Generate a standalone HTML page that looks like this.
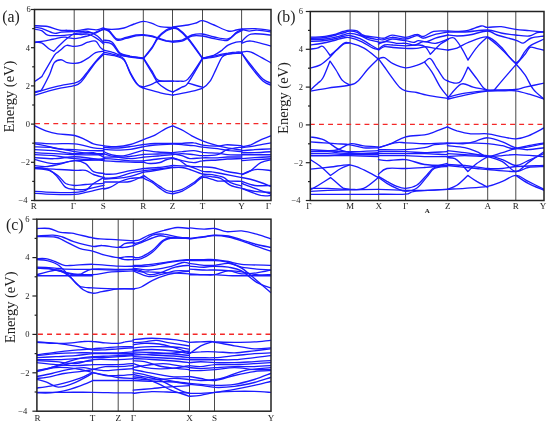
<!DOCTYPE html><html><head><meta charset="utf-8"><style>html,body{margin:0;padding:0;background:#fff;width:550px;height:424px;overflow:hidden}svg{display:block}text{font-family:"Liberation Serif",serif;fill:#222}</style></head><body>
<svg width="550" height="424" viewBox="0 0 550 424">
<clipPath id="ca"><rect x="34.5" y="9.5" width="236.5" height="191.0"/></clipPath>
<line x1="74.2" y1="9.5" x2="74.2" y2="200.5" stroke="#4a4a4a" stroke-width="1"/>
<line x1="103.6" y1="9.5" x2="103.6" y2="200.5" stroke="#4a4a4a" stroke-width="1"/>
<line x1="143.3" y1="9.5" x2="143.3" y2="200.5" stroke="#4a4a4a" stroke-width="1"/>
<line x1="172.5" y1="9.5" x2="172.5" y2="200.5" stroke="#4a4a4a" stroke-width="1"/>
<line x1="202.5" y1="9.5" x2="202.5" y2="200.5" stroke="#4a4a4a" stroke-width="1"/>
<line x1="241.6" y1="9.5" x2="241.6" y2="200.5" stroke="#4a4a4a" stroke-width="1"/>
<g clip-path="url(#ca)" fill="none" stroke="#1a1aff" stroke-width="1.35" stroke-linejoin="round" stroke-linecap="round">
<path d="M34.8,25.7 C36.9,25.8 44.2,25.9 47.7,26.5 C51.2,27.1 53.7,28.4 56.0,29.1 C58.3,29.8 59.8,30.3 61.7,30.5 C63.6,30.7 65.2,30.2 67.3,30.3 C69.4,30.4 72.0,30.8 74.2,30.8 C76.5,30.8 78.5,30.4 80.8,30.1 C83.1,29.8 85.4,29.0 88.0,29.0 C90.6,29.0 93.9,30.1 96.5,29.9 C99.1,29.7 102.6,28.0 103.8,27.6"/>
<path d="M34.8,27.2 C35.9,27.4 38.4,27.4 41.6,28.4 C44.8,29.4 50.5,32.6 53.8,33.2 C57.1,33.8 58.1,32.5 61.5,32.2 C64.9,31.9 71.0,31.6 74.2,31.5 C77.4,31.4 78.5,31.5 80.8,31.5 C83.1,31.5 85.2,30.6 88.0,31.3 C90.8,32.0 94.8,34.1 97.4,36.0 C100.0,37.9 102.7,41.6 103.8,42.7"/>
<path d="M34.8,29.2 C35.9,29.4 39.5,29.7 41.6,30.7 C43.8,31.7 45.2,34.3 47.7,35.1 C50.2,35.9 54.1,35.6 56.9,35.6 C59.7,35.6 61.6,35.5 64.5,35.3 C67.4,35.1 71.5,34.5 74.2,34.4 C76.9,34.3 78.5,34.5 80.8,34.5 C83.1,34.5 85.2,33.5 88.0,34.2 C90.8,34.9 94.8,37.2 97.4,38.9 C100.0,40.5 102.7,43.2 103.8,44.1"/>
<path d="M34.8,42.1 C35.9,42.0 39.1,41.8 41.6,41.4 C44.1,41.0 47.6,40.3 50.0,39.8 C52.4,39.3 54.3,39.0 56.0,38.6 C57.7,38.2 58.7,37.8 60.2,37.6 C61.7,37.4 62.9,37.0 65.2,37.2 C67.5,37.4 71.6,38.5 74.2,38.6 C76.8,38.7 78.5,38.1 80.8,37.6 C83.1,37.1 85.9,36.3 87.8,35.8 C89.7,35.3 90.5,35.2 92.0,34.5 C93.5,33.8 95.0,32.4 97.0,31.5 C99.0,30.6 102.7,29.8 103.8,29.4"/>
<path d="M34.8,42.5 C35.9,42.6 39.2,41.8 41.6,42.9 C44.0,44.0 47.3,47.6 49.3,49.0 C51.3,50.4 53.0,50.9 53.8,51.3 C54.2,50.9 54.7,50.2 56.0,48.9 C57.3,47.5 59.8,45.0 61.7,43.2 C63.6,41.4 65.2,39.9 67.3,38.3 C69.4,36.7 72.0,34.6 74.2,33.7 C76.5,32.8 78.5,33.2 80.8,33.0 C83.1,32.8 85.6,32.5 88.0,32.5 C90.4,32.5 92.4,33.6 95.0,33.0 C97.6,32.4 102.3,29.5 103.8,28.8"/>
<path d="M34.8,81.4 C35.9,80.7 39.8,78.3 41.2,77.1 C42.6,75.9 41.1,77.6 43.3,74.0 C45.5,70.4 51.8,59.1 54.3,55.4 C56.8,51.7 56.8,53.1 58.1,52.0 C59.4,50.9 60.9,49.6 62.3,48.5 C63.7,47.4 64.6,45.6 66.6,45.3 C68.6,44.9 71.8,46.4 74.2,46.4 C76.6,46.4 78.5,46.0 80.8,45.3 C83.1,44.6 85.5,42.9 88.0,42.2 C90.5,41.5 93.5,40.3 95.6,41.2 C97.6,42.1 98.9,45.9 100.3,47.4 C101.7,48.9 103.2,49.7 103.8,50.2"/>
<path d="M34.8,91.8 C35.3,91.7 36.9,91.5 38.0,91.2 C39.1,91.0 40.2,91.3 41.2,90.3 C42.2,89.3 42.9,87.7 44.3,85.0 C45.7,82.3 48.1,77.7 49.8,74.0 C51.5,70.3 52.4,65.1 54.3,62.7 C56.2,60.3 58.9,59.7 61.0,59.7 C63.1,59.7 65.0,62.1 67.2,62.7 C69.4,63.3 72.0,63.5 74.2,63.4 C76.4,63.3 78.2,63.3 80.5,62.4 C82.8,61.5 85.6,59.7 88.1,58.1 C90.6,56.5 93.0,53.8 95.6,52.6 C98.2,51.5 102.4,51.4 103.8,51.2"/>
<path d="M34.8,92.6 C38.3,91.6 49.4,88.2 56.0,86.6 C62.6,85.0 70.1,84.1 74.2,83.1 C78.3,82.0 78.2,82.3 80.5,80.3 C82.8,78.3 85.6,74.2 88.1,71.1 C90.6,67.9 93.1,64.5 95.7,61.4 C98.3,58.3 102.5,54.1 103.8,52.6"/>
<path d="M34.8,95.2 C38.3,94.2 49.4,90.8 56.0,89.2 C62.6,87.6 70.1,86.8 74.2,85.7 C78.3,84.6 78.2,84.7 80.5,82.5 C82.8,80.3 85.6,76.0 88.1,72.7 C90.6,69.4 93.1,65.5 95.7,62.4 C98.3,59.3 102.5,55.4 103.8,54.0"/>
<path d="M103.6,28.6 C105.0,28.8 108.6,29.5 112.0,29.4 C115.4,29.3 120.4,28.9 124.0,28.0 C127.7,27.1 130.8,25.1 134.1,24.0 C137.3,22.9 140.5,21.5 143.5,21.4 C146.5,21.3 149.3,22.5 152.1,23.4 C154.9,24.3 156.6,26.0 160.1,26.6 C163.6,27.3 171.0,27.3 173.1,27.4"/>
<path d="M103.6,29.0 C104.5,29.3 106.8,29.0 109.0,30.6 C111.3,32.3 114.2,37.9 117.0,39.0 C119.9,40.2 122.9,38.1 126.1,37.4 C129.2,36.8 133.2,35.5 136.1,35.0 C139.0,34.6 140.8,34.5 143.5,34.6 C146.2,34.8 149.7,35.5 152.1,36.0 C154.5,36.6 155.8,37.3 158.1,38.0 C160.5,38.8 163.6,40.1 166.1,40.7 C168.6,41.2 172.0,41.3 173.1,41.5"/>
<path d="M103.6,29.4 C104.5,29.8 106.8,29.7 109.0,31.4 C111.3,33.2 114.2,38.9 117.0,40.1 C119.9,41.2 122.9,39.1 126.1,38.4 C129.2,37.7 133.2,36.3 136.1,35.8 C139.0,35.3 140.8,35.3 143.5,35.4 C146.2,35.6 149.7,36.1 152.1,36.6 C154.5,37.2 155.8,37.9 158.1,38.6 C160.5,39.4 163.6,40.5 166.1,41.1 C168.6,41.6 172.0,41.9 173.1,42.1"/>
<path d="M103.6,40.1 C105.0,40.4 109.3,39.9 112.0,42.1 C114.8,44.2 117.0,50.7 120.0,53.1 C123.0,55.4 126.2,55.2 130.1,56.1 C134.0,56.9 141.2,57.8 143.5,58.1"/>
<path d="M103.6,42.1 C105.0,42.4 109.3,42.1 112.0,44.1 C114.8,46.1 117.0,52.0 120.0,54.1 C123.0,56.2 126.2,56.0 130.1,56.7 C134.0,57.4 141.2,58.0 143.5,58.3"/>
<path d="M103.6,50.1 C105.0,50.4 109.3,51.2 112.0,52.1 C114.8,52.9 117.0,54.2 120.0,55.1 C123.0,55.9 126.2,56.5 130.1,57.1 C134.0,57.7 141.2,58.4 143.5,58.7"/>
<path d="M103.6,52.1 C105.7,52.6 112.6,53.9 116.0,55.1 C119.4,56.2 121.7,56.1 124.0,59.1 C126.4,62.1 127.9,68.9 130.1,73.1 C132.2,77.3 134.8,81.8 137.1,84.1 C139.3,86.5 142.4,86.6 143.5,87.1"/>
<path d="M103.6,54.1 C105.7,54.4 112.6,55.1 116.0,56.1 C119.4,57.1 121.5,57.1 124.0,60.1 C126.6,63.1 128.7,69.9 131.1,74.1 C133.4,78.3 136.0,82.8 138.1,85.1 C140.1,87.5 142.6,87.6 143.5,88.1"/>
<path d="M143.5,58.1 C144.9,56.2 149.7,50.6 152.1,47.1 C154.5,43.6 155.8,39.9 158.1,37.0 C160.5,34.2 163.6,31.6 166.1,30.0 C168.6,28.4 172.0,27.9 173.1,27.4"/>
<path d="M143.5,58.7 C144.9,56.9 149.7,51.5 152.1,48.1 C154.5,44.6 155.8,40.9 158.1,38.0 C160.5,35.2 163.6,32.7 166.1,31.0 C168.6,29.4 172.0,28.7 173.1,28.2"/>
<path d="M143.5,58.1 C144.9,60.3 149.7,67.4 152.1,71.1 C154.5,74.8 154.6,78.5 158.1,80.1 C161.6,81.8 170.6,81.0 173.1,81.1"/>
<path d="M143.5,58.7 C144.9,61.1 149.7,69.0 152.1,73.1 C154.5,77.2 155.8,80.5 158.1,83.1 C160.5,85.8 163.6,87.6 166.1,89.1 C168.6,90.7 172.0,91.7 173.1,92.2"/>
<path d="M143.5,87.1 C144.9,86.6 149.7,85.1 152.1,84.1 C154.5,83.2 154.6,82.0 158.1,81.5 C161.6,81.0 170.6,81.2 173.1,81.1"/>
<path d="M143.5,88.1 C145.9,88.8 154.3,91.2 158.1,92.2 C161.9,93.2 163.6,93.7 166.1,94.2 C168.6,94.7 172.0,95.0 173.1,95.2"/>
<path d="M172.6,27.0 C175.2,26.7 184.1,25.7 188.0,25.0 C191.9,24.4 193.6,23.8 196.1,23.0 C198.5,22.3 199.5,20.3 202.5,20.6 C205.5,20.9 209.8,23.3 214.1,25.0 C218.4,26.8 224.4,30.2 228.1,31.0 C231.8,31.9 233.8,30.4 236.1,30.0 C238.5,29.7 241.1,29.2 242.1,29.0"/>
<path d="M172.6,27.4 C173.5,27.6 175.4,26.9 178.0,28.6 C180.6,30.4 184.0,33.1 188.0,38.0 C192.1,43.0 200.1,54.7 202.5,58.1"/>
<path d="M172.6,28.2 C173.5,28.4 175.4,27.6 178.0,29.4 C180.6,31.2 184.0,34.2 188.0,39.0 C192.1,43.9 200.1,55.4 202.5,58.7"/>
<path d="M172.6,41.1 C174.2,40.9 178.8,41.1 182.0,40.1 C185.3,39.0 188.6,36.0 192.0,35.0 C195.5,34.0 198.8,33.7 202.5,34.0 C206.1,34.4 209.8,36.2 214.1,37.0 C218.4,37.9 224.4,39.8 228.1,39.0 C231.8,38.3 233.8,34.2 236.1,32.6 C238.5,31.0 241.1,30.0 242.1,29.4"/>
<path d="M172.6,42.1 C174.2,41.9 178.8,42.1 182.0,41.1 C185.3,40.1 188.6,36.9 192.0,36.0 C195.5,35.2 198.8,35.6 202.5,36.0 C206.1,36.5 210.8,38.0 214.1,38.6 C217.4,39.3 219.8,39.8 222.1,40.1 C224.4,40.3 225.8,41.2 228.1,40.1 C230.5,38.9 233.8,35.0 236.1,33.4 C238.5,31.9 241.1,31.1 242.1,30.6"/>
<path d="M202.5,58.1 C204.4,57.8 210.8,56.8 214.1,56.1 C217.4,55.4 219.8,54.6 222.1,54.1 C224.4,53.6 225.8,53.4 228.1,53.1 C230.5,52.7 233.8,52.2 236.1,52.1 C238.5,51.9 241.1,52.1 242.1,52.1"/>
<path d="M202.5,58.7 C204.4,58.4 210.8,57.7 214.1,57.1 C217.4,56.5 219.8,55.6 222.1,55.1 C224.4,54.6 225.8,54.4 228.1,54.1 C230.5,53.7 233.8,53.2 236.1,53.1 C238.5,52.9 241.1,53.1 242.1,53.1"/>
<path d="M202.5,58.1 C204.4,57.6 210.8,56.4 214.1,55.1 C217.4,53.7 219.8,51.7 222.1,50.1 C224.4,48.4 225.8,46.4 228.1,45.1 C230.5,43.7 233.8,42.7 236.1,42.1 C238.5,41.5 241.1,41.6 242.1,41.5"/>
<path d="M172.6,81.1 C173.8,81.1 177.4,81.5 180.0,81.1 C182.6,80.8 184.3,83.0 188.0,79.1 C191.8,75.3 200.1,61.6 202.5,58.1"/>
<path d="M172.6,92.2 C174.2,91.3 179.5,88.6 182.0,87.1 C184.6,85.6 184.6,87.9 188.0,83.1 C191.4,78.4 200.1,62.8 202.5,58.7"/>
<path d="M188.0,83.1 C189.4,83.5 193.6,84.9 196.1,85.5 C198.5,86.2 201.4,86.9 202.5,87.1"/>
<path d="M172.6,95.2 C175.2,94.7 183.1,93.3 188.0,92.2 C193.0,91.0 198.8,90.0 202.5,88.1 C206.1,86.3 207.8,84.3 210.1,81.1 C212.4,78.0 214.1,73.1 216.1,69.1 C218.1,65.1 220.1,59.6 222.1,57.1 C224.1,54.6 224.8,54.7 228.1,54.1 C231.5,53.4 239.8,53.2 242.1,53.1"/>
<path d="M241.7,29.1 C243.9,29.0 250.1,28.4 255.1,28.7 C260.1,28.9 268.8,30.3 271.6,30.7"/>
<path d="M241.7,29.5 C242.9,29.7 246.5,31.0 249.1,31.1 C251.7,31.2 253.4,29.9 257.1,30.1 C260.9,30.2 269.2,31.7 271.6,32.1"/>
<path d="M241.7,41.5 C243.2,40.3 246.1,35.1 251.1,34.1 C256.1,33.0 268.2,34.9 271.6,35.1"/>
<path d="M241.7,43.1 C243.2,42.8 246.1,40.6 251.1,41.1 C256.1,41.6 268.2,45.3 271.6,46.1"/>
<path d="M241.7,52.1 C243.2,52.1 246.1,50.3 251.1,52.1 C256.1,54.0 268.2,61.4 271.6,63.2"/>
<path d="M241.7,53.2 C243.2,55.2 247.5,60.9 251.1,65.2 C254.7,69.6 259.7,76.2 263.2,79.3 C266.6,82.3 270.2,82.6 271.6,83.3"/>
<path d="M241.7,53.2 C243.2,55.5 247.5,62.5 251.1,67.2 C254.7,71.9 259.7,78.3 263.2,81.3 C266.6,84.3 270.2,84.6 271.6,85.3"/>
<path d="M35.0,125.9 C36.8,126.8 42.1,129.6 45.9,130.9 C49.7,132.2 53.0,133.1 57.8,133.9 C62.6,134.6 70.0,134.5 74.7,135.5 C79.3,136.5 82.4,138.4 85.6,139.8 C88.7,141.2 90.4,142.8 93.5,143.8 C96.6,144.8 102.3,145.4 104.0,145.8"/>
<path d="M35.0,142.8 C38.1,143.0 47.2,143.6 53.8,143.8 C60.5,144.0 68.1,143.1 74.7,143.8 C81.3,144.5 88.6,146.9 93.5,147.8 C98.4,148.6 102.3,148.6 104.0,148.8"/>
<path d="M35.0,143.8 C36.8,144.1 42.1,145.0 45.9,145.8 C49.7,146.6 53.0,148.1 57.8,148.8 C62.6,149.4 68.7,149.4 74.7,149.7 C80.6,150.1 88.6,150.6 93.5,150.7 C98.4,150.9 102.3,150.7 104.0,150.7"/>
<path d="M35.0,146.8 C38.1,146.9 47.2,146.9 53.8,147.8 C60.5,148.6 68.1,150.7 74.7,151.7 C81.3,152.7 88.6,153.4 93.5,153.7 C98.4,154.0 102.3,153.5 104.0,153.5"/>
<path d="M35.0,149.7 C38.1,149.9 47.2,150.1 53.8,150.7 C60.5,151.4 68.1,153.4 74.7,153.7 C81.3,154.0 88.6,152.1 93.5,152.7 C98.4,153.4 102.3,156.7 104.0,157.5"/>
<path d="M35.0,152.7 C41.6,153.1 63.2,154.4 74.7,154.7 C86.2,155.0 99.1,154.7 104.0,154.7"/>
<path d="M35.0,154.7 C38.1,154.9 47.2,155.0 53.8,155.7 C60.5,156.4 66.3,157.9 74.7,158.7 C83.0,159.5 99.1,160.2 104.0,160.5"/>
<path d="M35.0,157.7 C38.1,157.8 47.2,158.8 53.8,158.7 C60.5,158.5 68.1,156.7 74.7,156.7 C81.3,156.7 88.6,158.2 93.5,158.7 C98.4,159.2 102.3,159.5 104.0,159.7"/>
<path d="M35.0,159.7 C38.1,160.3 47.2,163.5 53.8,163.6 C60.5,163.8 68.1,161.3 74.7,160.7 C81.3,160.1 88.6,160.4 93.5,160.1 C98.4,159.7 102.3,158.9 104.0,158.7"/>
<path d="M35.0,165.6 C36.8,165.8 42.1,166.8 45.9,166.6 C49.7,166.4 53.0,165.6 57.8,164.6 C62.6,163.6 70.0,160.8 74.7,160.7 C79.3,160.5 82.4,161.8 85.6,163.6 C88.7,165.5 90.4,170.0 93.5,171.6 C96.6,173.2 102.3,173.1 104.0,173.4"/>
<path d="M35.0,167.6 C36.8,167.8 42.1,167.3 45.9,168.6 C49.7,169.9 54.5,173.1 57.8,175.5 C61.1,178.0 62.9,181.8 65.7,183.5 C68.6,185.1 71.4,185.3 74.7,185.5 C78.0,185.6 80.7,184.8 85.6,184.5 C90.5,184.1 101.0,183.5 104.0,183.3"/>
<path d="M35.0,168.6 C37.5,168.9 46.1,169.1 49.9,170.6 C53.7,172.1 55.2,174.7 57.8,177.5 C60.5,180.3 62.9,185.5 65.7,187.4 C68.6,189.4 71.4,189.1 74.7,189.4 C78.0,189.8 80.7,190.1 85.6,189.4 C90.5,188.7 101.0,186.0 104.0,185.3"/>
<path d="M35.0,191.4 C38.1,191.6 47.2,192.2 53.8,192.4 C60.5,192.6 69.4,192.7 74.7,192.4 C80.0,192.1 82.4,191.9 85.6,190.4 C88.7,188.9 90.4,185.7 93.5,183.5 C96.6,181.3 102.3,178.4 104.0,177.3"/>
<path d="M35.0,193.4 C38.1,193.6 47.2,194.2 53.8,194.4 C60.5,194.6 69.4,194.7 74.7,194.4 C80.0,194.1 80.7,193.4 85.6,192.4 C90.5,191.4 101.0,188.9 104.0,188.2"/>
<path d="M35.0,168.0 C38.1,168.2 47.2,168.8 53.8,169.2 C60.5,169.6 69.4,170.2 74.7,170.4 C80.0,170.6 82.4,169.7 85.6,170.4 C88.7,171.1 90.4,173.4 93.5,174.5 C96.6,175.7 102.3,177.0 104.0,177.5"/>
<path d="M103.7,145.9 C105.8,146.0 111.7,146.8 116.1,146.6 C120.6,146.4 125.7,145.7 130.3,144.5 C134.9,143.3 141.5,140.4 143.7,139.5"/>
<path d="M103.7,147.3 C105.8,147.4 111.7,148.1 116.1,148.0 C120.6,147.9 125.7,147.2 130.3,146.6 C134.9,146.0 141.5,144.8 143.7,144.5"/>
<path d="M103.7,149.4 C105.8,149.6 111.7,150.1 116.1,150.1 C120.6,150.1 125.7,150.0 130.3,149.4 C134.9,148.8 141.5,147.1 143.7,146.6"/>
<path d="M103.7,151.6 C104.8,152.0 107.2,153.7 110.5,154.4 C113.7,155.1 117.7,156.5 123.2,155.8 C128.8,155.1 140.3,151.1 143.7,150.1"/>
<path d="M103.7,153.7 C104.8,154.0 107.2,155.2 110.5,155.8 C113.7,156.4 117.7,157.5 123.2,157.2 C128.8,157.0 140.3,154.9 143.7,154.4"/>
<path d="M103.7,157.2 C105.8,157.2 111.7,157.0 116.1,157.2 C120.6,157.5 125.7,158.6 130.3,158.6 C134.9,158.6 141.5,157.5 143.7,157.2"/>
<path d="M103.7,158.6 C105.8,158.7 111.7,159.0 116.1,159.3 C120.6,159.7 125.7,160.5 130.3,160.8 C134.9,161.0 141.5,160.8 143.7,160.8"/>
<path d="M103.7,160.8 C105.8,160.9 111.7,161.2 116.1,161.5 C120.6,161.7 125.7,162.0 130.3,162.2 C134.9,162.3 141.5,162.2 143.7,162.2"/>
<path d="M103.7,174.2 C105.8,174.1 111.7,174.5 116.1,173.9 C120.6,173.3 125.7,171.5 130.3,170.7 C134.9,169.8 141.5,168.9 143.7,168.5"/>
<path d="M103.7,178.1 C105.8,178.0 111.7,178.1 116.1,177.3 C120.6,176.5 125.7,174.2 130.3,173.1 C134.9,172.0 141.5,171.1 143.7,170.7"/>
<path d="M103.7,179.1 C105.8,179.0 111.7,178.9 116.1,178.4 C120.6,178.0 125.7,177.4 130.3,176.3 C134.9,175.3 141.5,172.8 143.7,172.1"/>
<path d="M103.7,182.0 C105.8,182.0 111.7,182.0 116.1,182.0 C120.6,181.9 125.7,182.6 130.3,181.5 C134.9,180.5 141.5,176.6 143.7,175.6"/>
<path d="M103.7,189.0 C104.8,188.7 107.7,188.5 110.5,187.2 C113.3,186.0 117.1,183.0 120.4,181.5 C123.7,180.1 126.4,179.1 130.3,178.4 C134.2,177.8 141.5,177.8 143.7,177.7"/>
<path d="M143.7,139.5 C145.6,138.7 151.8,136.6 155.4,134.8 C159.0,133.0 162.5,130.4 165.3,128.9 C168.2,127.4 171.3,126.4 172.5,125.9"/>
<path d="M143.7,144.5 C145.6,144.3 150.2,143.7 155.0,143.5 C159.8,143.3 169.6,143.3 172.5,143.3"/>
<path d="M143.7,146.6 C145.6,146.3 150.2,145.4 155.0,145.0 C159.8,144.6 169.6,144.2 172.5,144.1"/>
<path d="M143.7,150.1 C146.1,150.4 153.2,151.6 158.0,152.0 C162.8,152.4 170.1,152.6 172.5,152.7"/>
<path d="M143.7,154.4 C146.1,154.3 153.2,154.1 158.0,154.0 C162.8,153.9 170.1,153.7 172.5,153.6"/>
<path d="M143.7,157.2 C146.1,157.0 153.2,156.4 158.0,156.0 C162.8,155.6 170.1,154.8 172.5,154.6"/>
<path d="M143.7,160.8 C146.1,160.5 153.2,159.5 158.0,159.0 C162.8,158.5 170.1,157.8 172.5,157.6"/>
<path d="M143.7,162.2 C144.8,162.4 147.3,163.4 150.0,163.5 C152.7,163.6 157.4,163.1 160.0,162.5 C162.6,161.9 163.4,160.7 165.5,160.0 C167.6,159.3 171.3,158.6 172.5,158.3"/>
<path d="M143.7,168.5 C146.1,168.3 153.2,168.0 158.0,167.5 C162.8,167.0 170.1,165.8 172.5,165.5"/>
<path d="M143.7,170.7 C146.1,170.4 153.2,169.6 158.0,169.0 C162.8,168.4 170.1,167.5 172.5,167.2"/>
<path d="M143.7,172.1 C146.1,171.8 153.2,170.8 158.0,170.0 C162.8,169.2 170.1,167.9 172.5,167.5"/>
<path d="M143.7,175.6 C145.0,176.5 149.1,179.1 151.8,180.9 C154.5,182.7 157.5,184.8 160.0,186.4 C162.5,188.0 164.6,189.6 166.7,190.5 C168.8,191.4 171.5,191.4 172.5,191.6"/>
<path d="M143.7,178.4 C145.0,179.1 149.1,180.6 151.8,182.3 C154.5,184.0 157.5,186.7 160.0,188.4 C162.5,190.1 164.6,191.8 166.7,192.7 C168.8,193.6 171.5,193.6 172.5,193.8"/>
<path d="M172.6,125.9 C174.1,126.6 178.7,128.2 181.9,129.9 C185.1,131.5 188.3,134.0 191.8,135.8 C195.2,137.6 199.1,139.4 202.5,140.8 C205.9,142.2 208.2,143.0 212.2,144.1 C216.1,145.3 221.3,146.7 226.2,147.7 C231.2,148.7 239.3,149.7 241.9,150.1"/>
<path d="M172.6,143.3 C174.1,143.3 178.3,143.4 181.9,143.3 C185.4,143.2 190.3,142.5 193.8,142.8 C197.2,143.0 198.5,144.6 202.5,145.1 C206.4,145.7 213.4,146.2 217.5,146.1 C221.7,146.1 223.4,144.8 227.4,144.7 C231.5,144.7 239.5,145.6 241.9,145.7"/>
<path d="M172.6,144.1 C174.1,144.2 178.3,144.5 181.9,144.7 C185.4,145.0 190.3,145.3 193.8,145.7 C197.2,146.1 198.5,146.6 202.5,147.1 C206.4,147.6 213.0,148.1 217.5,148.7 C222.0,149.3 225.3,150.2 229.4,150.7 C233.5,151.1 239.8,151.3 241.9,151.5"/>
<path d="M172.6,152.7 C174.1,152.5 178.3,152.0 181.9,151.7 C185.4,151.3 190.3,150.6 193.8,150.7 C197.2,150.8 198.5,151.8 202.5,152.3 C206.4,152.7 213.4,152.9 217.5,153.2 C221.7,153.6 223.4,154.3 227.4,154.6 C231.5,154.9 239.5,155.0 241.9,155.0"/>
<path d="M172.6,153.6 C174.1,154.0 179.0,154.8 181.9,155.6 C184.8,156.4 186.4,158.2 189.8,158.6 C193.2,159.0 197.9,157.9 202.5,157.8 C207.1,157.7 213.4,157.9 217.5,157.8 C221.7,157.7 223.4,157.1 227.4,157.0 C231.5,156.9 239.5,157.0 241.9,157.0"/>
<path d="M172.6,154.6 C174.1,154.5 178.3,153.6 181.9,153.6 C185.4,153.6 190.3,154.3 193.8,154.6 C197.2,155.0 198.5,155.6 202.5,155.6 C206.4,155.6 213.4,155.6 217.5,154.6 C221.7,153.6 223.4,150.9 227.4,149.7 C231.5,148.4 239.5,147.5 241.9,147.1"/>
<path d="M172.6,157.6 C174.1,158.1 178.3,159.7 181.9,160.6 C185.4,161.4 190.3,162.5 193.8,162.6 C197.2,162.6 198.5,161.2 202.5,160.8 C206.4,160.3 213.4,160.3 217.5,160.0 C221.7,159.7 223.4,159.2 227.4,159.0 C231.5,158.8 239.5,158.7 241.9,158.6"/>
<path d="M172.6,158.4 C173.6,158.7 176.7,159.1 178.7,160.0 C180.7,160.9 182.8,162.9 184.5,163.9 C186.1,165.0 185.8,165.6 188.8,166.1 C191.8,166.6 198.6,166.7 202.5,166.9 C206.4,167.1 209.2,167.1 212.2,167.5 C215.2,167.9 218.0,168.8 220.5,169.5 C223.0,170.1 223.9,170.7 227.4,171.5 C231.0,172.2 239.5,173.6 241.9,174.0"/>
<path d="M172.6,165.5 C175.4,165.7 184.8,165.6 189.8,166.5 C194.8,167.5 198.7,170.4 202.5,171.3 C206.2,172.2 208.7,171.4 212.2,171.9 C215.7,172.3 218.5,173.1 223.5,174.0 C228.4,175.0 238.8,177.0 241.9,177.6"/>
<path d="M172.6,167.5 C174.1,167.5 179.0,167.2 181.9,167.5 C184.8,167.8 186.4,168.4 189.8,169.5 C193.2,170.6 198.7,173.2 202.5,174.0 C206.2,174.9 208.7,174.1 212.2,174.6 C215.7,175.2 220.4,176.1 223.5,177.4 C226.5,178.7 227.5,181.1 230.6,182.6 C233.7,184.0 240.0,185.5 241.9,186.1"/>
<path d="M172.6,191.7 C174.2,191.3 178.8,190.8 182.3,189.3 C185.7,187.8 190.0,184.9 193.4,182.8 C196.7,180.6 199.3,177.2 202.5,176.2 C205.6,175.2 209.2,176.4 212.2,176.8 C215.2,177.2 217.4,177.0 220.5,178.4 C223.6,179.8 227.0,183.7 230.6,185.3 C234.2,187.0 240.0,187.8 241.9,188.3"/>
<path d="M172.6,193.8 C174.2,193.4 178.8,192.7 182.3,191.1 C185.7,189.5 190.0,186.6 193.4,184.3 C196.7,182.1 199.3,178.2 202.5,177.4 C205.6,176.6 209.7,178.8 212.2,179.4 C214.7,180.0 214.7,180.7 217.5,181.0 C220.4,181.2 225.3,180.9 229.4,181.0 C233.5,181.0 239.8,181.3 241.9,181.4"/>
<path d="M241.9,146.8 C243.4,146.4 247.7,145.9 250.8,144.8 C253.9,143.6 257.2,141.4 260.7,139.8 C264.2,138.3 269.8,136.2 271.6,135.5"/>
<path d="M241.9,147.8 C244.0,147.4 249.8,146.6 254.8,145.8 C259.7,145.0 268.8,143.3 271.6,142.8"/>
<path d="M241.9,150.7 C244.0,150.6 249.8,150.1 254.8,149.7 C259.7,149.4 268.8,148.9 271.6,148.8"/>
<path d="M241.9,152.7 C244.0,152.7 249.8,152.9 254.8,152.7 C259.7,152.6 268.8,151.9 271.6,151.7"/>
<path d="M241.9,154.7 L271.6,154.7"/>
<path d="M241.9,158.7 C244.0,158.5 249.8,158.0 254.8,157.7 C259.7,157.4 268.8,156.9 271.6,156.7"/>
<path d="M241.9,160.7 C244.0,160.5 249.8,160.0 254.8,159.7 C259.7,159.3 268.8,158.8 271.6,158.7"/>
<path d="M241.9,174.5 C243.4,173.9 247.7,172.6 250.8,170.6 C253.9,168.6 257.2,164.5 260.7,162.6 C264.2,160.8 269.8,160.2 271.6,159.7"/>
<path d="M241.9,174.5 C244.0,173.7 249.8,170.2 254.8,169.6 C259.7,168.9 268.8,170.4 271.6,170.6"/>
<path d="M241.9,177.5 C244.0,178.0 249.8,179.0 254.8,180.5 C259.7,182.0 268.8,185.5 271.6,186.5"/>
<path d="M241.9,181.5 C244.0,182.2 249.8,184.8 254.8,185.5 C259.7,186.1 268.8,185.5 271.6,185.5"/>
<path d="M241.9,188.4 C244.0,188.9 249.8,190.8 254.8,191.4 C259.7,192.1 268.8,192.2 271.6,192.4"/>
<path d="M241.9,183.5 C244.0,184.3 249.8,186.6 254.8,188.4 C259.7,190.3 268.8,193.4 271.6,194.4"/>
<path d="M241.9,188.4 C245.0,189.6 255.8,194.2 260.7,195.4 C265.7,196.5 269.8,195.4 271.6,195.4"/>
</g>
<line x1="35.1" y1="123.6" x2="270.5" y2="123.6" stroke="#f42828" stroke-width="1.4" stroke-dasharray="4.9,4.2"/>
<rect x="34.5" y="9.5" width="236.5" height="191.0" fill="none" stroke="#222" stroke-width="1.5"/>
<line x1="31.0" y1="200.5" x2="34.5" y2="200.5" stroke="#222" stroke-width="1.2"/>
<text x="27.6" y="203.3" font-size="8.5" text-anchor="end">−4</text>
<line x1="32.2" y1="181.4" x2="34.5" y2="181.4" stroke="#222" stroke-width="1.2"/>
<line x1="31.0" y1="162.3" x2="34.5" y2="162.3" stroke="#222" stroke-width="1.2"/>
<text x="30.0" y="165.1" font-size="8.5" text-anchor="end">−2</text>
<line x1="32.2" y1="143.2" x2="34.5" y2="143.2" stroke="#222" stroke-width="1.2"/>
<line x1="31.0" y1="124.1" x2="34.5" y2="124.1" stroke="#222" stroke-width="1.2"/>
<text x="30.0" y="126.9" font-size="8.5" text-anchor="end">0</text>
<line x1="32.2" y1="105.0" x2="34.5" y2="105.0" stroke="#222" stroke-width="1.2"/>
<line x1="31.0" y1="85.9" x2="34.5" y2="85.9" stroke="#222" stroke-width="1.2"/>
<text x="30.0" y="88.7" font-size="8.5" text-anchor="end">2</text>
<line x1="32.2" y1="66.8" x2="34.5" y2="66.8" stroke="#222" stroke-width="1.2"/>
<line x1="31.0" y1="47.7" x2="34.5" y2="47.7" stroke="#222" stroke-width="1.2"/>
<text x="30.0" y="50.5" font-size="8.5" text-anchor="end">4</text>
<line x1="32.2" y1="28.6" x2="34.5" y2="28.6" stroke="#222" stroke-width="1.2"/>
<line x1="31.0" y1="9.5" x2="34.5" y2="9.5" stroke="#222" stroke-width="1.2"/>
<text x="30.7" y="12.3" font-size="8.5" text-anchor="end">6</text>
<text x="33.7" y="209.2" font-size="9.1" text-anchor="middle">R</text>
<text x="73.5" y="209.2" font-size="9.1" text-anchor="middle">Γ</text>
<text x="103.3" y="209.2" font-size="9.1" text-anchor="middle">S</text>
<text x="143.3" y="209.2" font-size="9.1" text-anchor="middle">R</text>
<text x="172.5" y="209.2" font-size="9.1" text-anchor="middle">Z</text>
<text x="202.5" y="209.2" font-size="9.1" text-anchor="middle">T</text>
<text x="241.6" y="209.2" font-size="9.1" text-anchor="middle">Y</text>
<text x="268.5" y="209.2" font-size="9.1" text-anchor="middle">Γ</text>
<clipPath id="cb"><rect x="310.3" y="11.5" width="233.7" height="189.0"/></clipPath>
<line x1="350.1" y1="11.5" x2="350.1" y2="200.5" stroke="#4a4a4a" stroke-width="1"/>
<line x1="378.7" y1="11.5" x2="378.7" y2="200.5" stroke="#4a4a4a" stroke-width="1"/>
<line x1="405.6" y1="11.5" x2="405.6" y2="200.5" stroke="#4a4a4a" stroke-width="1"/>
<line x1="447.7" y1="11.5" x2="447.7" y2="200.5" stroke="#4a4a4a" stroke-width="1"/>
<line x1="487.7" y1="11.5" x2="487.7" y2="200.5" stroke="#4a4a4a" stroke-width="1"/>
<line x1="515.8" y1="11.5" x2="515.8" y2="200.5" stroke="#4a4a4a" stroke-width="1"/>
<g clip-path="url(#cb)" fill="none" stroke="#1a1aff" stroke-width="1.35" stroke-linejoin="round" stroke-linecap="round">
<path d="M310.3,37.2 C312.8,37.1 320.7,36.8 325.0,36.3 C329.3,35.8 333.0,34.9 336.0,34.1 C339.0,33.3 340.7,32.1 343.0,31.5 C345.3,30.9 347.3,30.3 349.6,30.2 C351.9,30.1 354.6,29.9 357.0,30.8 C359.4,31.7 360.5,34.4 364.0,35.5 C367.5,36.6 375.8,37.2 378.2,37.6"/>
<path d="M310.3,38.3 C312.8,38.2 320.7,38.0 325.0,37.5 C329.3,37.0 333.0,35.8 336.0,35.0 C339.0,34.2 340.7,33.6 343.0,33.0 C345.3,32.4 347.3,31.3 349.6,31.2 C351.9,31.1 354.6,31.4 357.0,32.3 C359.4,33.2 360.5,35.3 364.0,36.5 C367.5,37.7 375.8,39.2 378.2,39.7"/>
<path d="M310.3,39.5 C312.8,39.4 320.7,39.4 325.0,39.0 C329.3,38.6 333.0,37.7 336.0,37.0 C339.0,36.3 340.7,35.6 343.0,35.0 C345.3,34.4 346.8,33.3 349.6,33.4 C352.4,33.5 356.8,34.5 360.0,35.5 C363.2,36.5 365.6,38.7 368.6,39.7 C371.6,40.8 376.6,41.4 378.2,41.8"/>
<path d="M310.3,41.3 C312.8,41.2 320.7,41.0 325.0,40.5 C329.3,40.0 333.0,39.2 336.0,38.5 C339.0,37.8 340.7,37.0 343.0,36.5 C345.3,36.0 346.8,35.1 349.6,35.5 C352.4,35.9 356.5,37.1 360.0,38.7 C363.5,40.3 367.8,43.2 370.8,45.0 C373.8,46.8 377.0,48.6 378.2,49.3"/>
<path d="M310.3,45.0 C311.6,44.8 315.4,44.4 318.0,44.0 C320.6,43.6 323.0,43.2 326.0,42.5 C329.0,41.8 333.2,40.8 336.0,40.0 C338.8,39.2 340.7,38.4 343.0,38.0 C345.3,37.6 346.4,37.0 349.6,37.6 C352.8,38.2 358.1,40.0 362.0,41.8 C365.9,43.6 370.3,47.0 373.0,48.2 C375.7,49.5 377.3,49.1 378.2,49.3"/>
<path d="M310.3,49.3 C311.6,49.0 315.9,48.3 318.0,47.8 C320.1,47.3 321.0,45.2 323.0,46.5 C325.0,47.8 328.9,54.0 330.1,55.5 C331.1,54.7 333.7,52.5 336.0,50.6 C338.3,48.7 341.4,45.3 343.7,44.0 C346.0,42.7 348.6,43.1 349.6,42.9"/>
<path d="M310.3,68.0 C312.0,67.5 317.1,66.6 320.4,64.8 C323.7,63.0 327.5,59.4 330.1,57.0 C332.7,54.6 333.7,52.9 336.0,50.6 C338.3,48.3 341.4,44.7 343.7,43.4 C346.0,42.1 346.2,42.1 349.6,42.9 C353.0,43.7 359.2,45.6 364.0,48.2 C368.8,50.9 375.8,57.0 378.2,58.8"/>
<path d="M310.2,90.2 C311.5,89.0 315.9,85.2 318.0,83.1 C320.1,81.0 321.0,81.5 323.0,77.8 C325.0,74.1 328.8,63.9 330.0,61.1 C331.0,62.6 333.9,66.8 336.0,70.0 C338.1,73.2 340.1,77.9 342.4,80.4 C344.7,82.9 348.4,84.2 349.6,85.0"/>
<path d="M310.2,91.2 C313.2,90.7 321.4,89.1 328.0,88.1 C334.6,87.1 344.6,86.2 349.6,85.0 C354.6,83.8 354.9,83.7 358.0,81.0 C361.1,78.3 364.6,72.7 368.0,69.0 C371.4,65.3 376.5,60.5 378.2,58.8"/>
<path d="M378.4,37.7 C379.4,37.8 382.2,38.6 384.5,38.2 C386.8,37.8 388.6,35.3 392.1,35.1 C395.7,35.0 401.6,37.5 405.7,37.3 C409.8,37.2 413.8,34.6 416.7,34.5 C419.7,34.3 420.7,37.0 423.5,36.5 C426.4,36.0 429.6,32.3 433.7,31.4 C437.8,30.5 445.8,31.1 448.2,31.1"/>
<path d="M378.4,38.7 C379.1,38.9 380.5,40.1 382.8,39.9 C385.1,39.7 388.3,37.5 392.1,37.3 C395.9,37.2 401.6,39.3 405.7,39.0 C409.8,38.8 413.8,35.8 416.7,35.6 C419.7,35.5 420.7,38.3 423.5,38.2 C426.4,38.0 429.6,35.8 433.7,34.8 C437.8,33.8 445.8,32.5 448.2,32.1"/>
<path d="M378.4,42.4 C379.4,42.3 382.2,42.1 384.5,41.6 C386.8,41.0 388.6,39.2 392.1,39.0 C395.7,38.9 402.2,40.2 405.7,40.7 C409.2,41.3 411.2,42.4 413.4,42.4 C415.5,42.4 416.2,40.9 418.4,40.7 C420.7,40.6 424.1,42.0 426.9,41.6 C429.8,41.2 431.9,39.3 435.4,38.2 C439.0,37.1 446.0,35.5 448.2,35.0"/>
<path d="M378.4,44.1 C379.7,43.7 383.2,41.7 386.2,41.6 C389.2,41.4 393.1,43.0 396.4,43.3 C399.6,43.6 402.6,43.0 405.7,43.3 C408.8,43.6 412.1,45.3 415.0,45.0 C418.0,44.7 420.1,41.9 423.5,41.6 C426.9,41.3 431.3,43.7 435.4,43.3 C439.5,42.9 446.0,39.7 448.2,39.0"/>
<path d="M378.4,49.2 C379.4,48.5 382.1,45.7 384.5,45.0 C386.9,44.3 389.4,44.8 393.0,45.0 C396.5,45.1 401.5,45.8 405.7,45.8 C410.0,45.8 415.2,44.8 418.4,45.0 C421.7,45.1 423.3,45.1 425.2,46.7 C427.2,48.2 429.5,53.0 430.3,54.3 C432.0,52.6 437.5,46.6 440.5,44.1 C443.5,41.7 446.9,40.3 448.2,39.5"/>
<path d="M378.4,50.1 C379.4,49.5 382.1,47.1 384.5,46.7 C386.9,46.3 389.4,47.2 393.0,47.5 C396.5,47.8 401.7,48.2 405.7,48.4 C409.7,48.5 413.5,48.7 416.7,48.4 C420.0,48.1 422.1,46.7 425.2,46.7 C428.3,46.7 431.6,47.8 435.4,48.4 C439.2,48.9 446.0,49.8 448.2,50.1"/>
<path d="M378.4,58.6 C379.4,58.4 382.1,56.9 384.5,57.7 C386.9,58.6 389.4,62.0 393.0,63.7 C396.5,65.4 401.7,67.6 405.7,67.9 C409.7,68.2 413.6,66.3 416.7,65.4 C419.9,64.4 422.1,63.1 424.4,62.0 C426.7,60.8 428.2,57.4 430.3,58.6 C432.5,59.7 434.9,65.4 437.1,68.7 C439.4,72.1 442.1,76.9 443.9,78.9 C445.8,81.0 447.4,80.6 448.2,81.0"/>
<path d="M378.4,58.6 C379.4,60.0 382.1,63.7 384.5,67.0 C386.9,70.4 390.4,75.5 393.0,78.9 C395.5,82.3 397.6,85.4 399.8,87.4 C401.9,89.4 402.9,90.0 405.7,90.8 C408.5,91.7 413.2,91.8 416.7,92.5 C420.3,93.2 421.7,94.1 426.9,95.1 C432.2,96.1 444.6,97.9 448.2,98.5"/>
<path d="M424.4,62.0 C425.7,63.7 429.3,67.9 432.0,72.1 C434.7,76.4 437.8,83.3 440.5,87.4 C443.2,91.6 446.9,95.5 448.2,97.1"/>
<path d="M447.6,31.0 C450.5,31.0 459.5,31.9 465.0,31.0 C470.6,30.2 477.3,26.6 481.1,26.0 C484.8,25.4 484.1,27.3 487.5,27.4 C490.8,27.5 496.4,26.3 501.1,26.6 C505.8,27.0 510.9,28.8 515.5,29.4 C520.2,30.1 524.4,30.2 529.2,30.6 C533.9,31.1 541.7,31.8 544.2,32.0"/>
<path d="M447.6,32.0 C450.5,32.0 458.4,32.4 465.0,32.0 C471.7,31.7 481.5,29.9 487.5,30.0 C493.5,30.2 496.4,32.2 501.1,33.0 C505.8,33.9 510.9,34.5 515.5,35.0 C520.2,35.5 525.6,36.4 529.2,36.0 C532.8,35.6 534.7,33.3 537.2,32.6 C539.7,32.0 543.0,32.1 544.2,32.0"/>
<path d="M447.6,35.0 C449.2,35.2 453.5,36.0 457.0,36.0 C460.6,36.0 464.0,35.9 469.0,35.0 C474.1,34.2 482.8,31.0 487.5,31.0 C492.2,31.0 492.4,33.5 497.1,35.0 C501.8,36.5 511.2,38.7 515.5,40.1 C519.9,41.4 520.6,43.4 523.2,43.1 C525.8,42.7 527.7,39.2 531.2,38.0 C534.7,36.9 542.0,36.4 544.2,36.0"/>
<path d="M447.6,39.0 C448.7,38.9 451.8,36.7 454.0,38.0 C456.3,39.4 458.7,43.4 461.0,47.1 C463.4,50.7 466.9,57.9 468.0,60.1 C469.5,57.9 473.8,50.9 477.1,47.1 C480.3,43.2 485.7,38.7 487.5,37.0"/>
<path d="M447.6,50.1 C449.2,49.7 453.5,49.4 457.0,48.1 C460.6,46.7 464.0,43.9 469.0,42.1 C474.1,40.2 482.1,36.2 487.5,37.0 C492.8,37.9 496.4,42.8 501.1,47.1 C505.8,51.3 511.5,62.0 515.5,62.7 C519.5,63.4 522.6,54.0 525.2,51.1 C527.8,48.1 528.0,47.1 531.2,45.1 C534.3,43.1 542.0,40.1 544.2,39.0"/>
<path d="M487.5,37.4 C489.1,38.7 492.4,40.7 497.1,45.1 C501.8,49.4 510.9,58.5 515.5,63.5 C520.2,68.5 522.2,70.8 525.2,75.1 C528.1,79.4 530.0,85.1 533.2,89.1 C536.3,93.2 542.4,97.5 544.2,99.2"/>
<path d="M494.1,90.2 C495.9,88.0 501.5,81.3 505.1,77.1 C508.7,72.9 512.2,68.9 515.5,65.1 C518.9,61.3 522.8,57.1 525.2,54.1 C527.6,51.1 528.0,48.2 530.0,47.3 C532.0,46.4 534.8,48.2 537.2,48.7 C539.6,49.2 543.0,50.0 544.2,50.3"/>
<path d="M447.6,81.1 C448.8,81.5 452.8,83.1 455.0,83.1 C457.3,83.1 458.9,83.8 461.0,81.1 C463.2,78.5 466.9,69.4 468.0,67.1 C469.5,69.1 474.2,75.5 477.1,79.1 C479.9,82.8 482.2,87.3 485.1,89.1 C487.9,91.0 489.0,90.1 494.1,90.2 C499.2,90.2 510.4,90.1 515.5,89.5 C520.7,89.0 520.4,88.2 525.2,87.1 C529.9,86.1 541.0,83.8 544.2,83.1"/>
<path d="M447.6,98.2 C449.8,95.8 456.8,86.0 461.0,84.1 C465.3,82.3 468.6,86.1 473.1,87.1 C477.5,88.1 485.1,89.6 487.5,90.2"/>
<path d="M447.6,97.2 C450.5,96.5 458.4,94.3 465.0,93.2 C471.7,92.1 479.1,91.1 487.5,90.6 C495.9,90.0 510.9,90.1 515.5,89.9"/>
<path d="M447.6,99.2 C450.5,98.5 458.4,96.5 465.0,95.2 C471.7,93.8 480.8,91.9 487.5,91.2 C494.2,90.4 500.4,90.8 505.1,90.8 C509.8,90.7 511.5,90.2 515.5,90.8 C519.5,91.3 524.4,92.8 529.2,94.2 C533.9,95.6 541.7,98.3 544.2,99.2"/>
<path d="M310.0,136.8 C312.3,137.3 319.2,137.8 323.9,139.8 C328.5,141.8 333.4,146.6 337.8,148.8 C342.1,150.9 345.8,151.9 350.1,152.7 C354.4,153.5 358.8,153.5 363.6,153.7 C368.3,153.9 376.0,153.7 378.4,153.7"/>
<path d="M310.0,141.8 C312.3,142.0 319.2,142.5 323.9,142.8 C328.5,143.1 333.4,143.5 337.8,143.8 C342.1,144.1 345.8,144.1 350.1,144.8 C354.4,145.4 358.8,147.3 363.6,147.8 C368.3,148.3 376.0,147.8 378.4,147.8"/>
<path d="M327.8,150.7 C329.5,150.6 334.1,150.9 337.8,149.7 C341.5,148.6 345.8,144.5 350.1,143.8 C354.4,143.1 358.8,145.3 363.6,145.8 C368.3,146.3 376.0,146.6 378.4,146.8"/>
<path d="M310.0,149.7 C313.0,149.9 321.2,150.4 327.8,150.7 C334.5,151.1 341.6,151.7 350.1,151.7 C358.5,151.7 373.7,150.9 378.4,150.7"/>
<path d="M310.0,151.7 C313.0,151.7 321.2,151.4 327.8,151.7 C334.5,152.1 341.6,153.5 350.1,153.7 C358.5,153.9 373.7,152.9 378.4,152.7"/>
<path d="M310.0,153.7 C313.0,153.7 321.2,153.5 327.8,153.7 C334.5,153.9 341.6,154.5 350.1,154.7 C358.5,154.9 373.7,154.7 378.4,154.7"/>
<path d="M310.0,155.7 C313.0,155.7 321.2,155.7 327.8,155.7 C334.5,155.7 341.6,155.5 350.1,155.7 C358.5,155.9 373.7,156.5 378.4,156.7"/>
<path d="M310.0,188.4 C313.0,188.4 321.2,188.3 327.8,188.4 C334.5,188.6 344.1,189.4 350.1,189.4 C356.0,189.4 358.8,190.4 363.6,188.4 C368.3,186.5 376.0,179.3 378.4,177.5"/>
<path d="M310.0,191.4 C313.0,191.2 321.2,190.7 327.8,190.4 C334.5,190.2 341.6,190.0 350.1,189.8 C358.5,189.7 373.7,189.5 378.4,189.4"/>
<path d="M310.0,194.4 C316.7,194.4 338.7,194.4 350.1,194.4 C361.5,194.4 373.7,194.4 378.4,194.4"/>
<path d="M310.3,159.6 C311.9,160.7 316.6,163.3 320.0,166.0 C323.4,168.7 328.8,173.9 330.5,175.5 C332.1,174.4 336.8,170.8 340.0,169.0 C343.2,167.2 348.0,165.6 349.6,164.9"/>
<path d="M310.3,189.5 C310.8,189.3 311.6,189.3 313.5,188.2 C315.4,187.1 319.2,184.8 322.0,183.0 C324.8,181.2 329.1,178.5 330.5,177.6 C331.6,178.5 334.9,181.2 337.0,183.0 C339.1,184.8 341.1,187.1 343.2,188.2 C345.3,189.2 348.5,189.1 349.6,189.3"/>
<path d="M310.3,169.1 C313.7,168.8 323.9,167.7 330.5,167.0 C337.1,166.3 344.0,164.4 349.6,164.9 C355.2,165.4 359.6,168.1 364.4,170.2 C369.2,172.3 375.9,176.4 378.2,177.6"/>
<path d="M378.4,147.7 C380.4,147.0 386.3,145.6 390.8,143.7 C395.4,141.9 400.1,138.3 405.7,136.8 C411.3,135.3 419.7,135.7 424.5,134.8 C429.3,134.0 430.6,133.2 434.4,131.9 C438.2,130.5 445.1,127.7 447.3,126.9"/>
<path d="M378.4,147.7 C381.1,146.9 390.2,143.6 394.8,142.8 C399.4,141.9 400.7,142.6 405.7,142.8 C410.6,142.9 417.6,143.7 424.5,143.7 C431.4,143.7 443.5,142.9 447.3,142.8"/>
<path d="M378.4,149.7 C382.9,149.7 398.0,150.0 405.7,149.7 C413.4,149.4 419.7,148.5 424.5,147.7 C429.3,146.9 430.6,145.4 434.4,144.7 C438.2,144.1 445.1,143.9 447.3,143.7"/>
<path d="M378.4,151.7 C382.9,151.7 398.0,151.5 405.7,151.7 C413.4,151.8 417.6,152.7 424.5,152.7 C431.4,152.7 443.5,151.8 447.3,151.7"/>
<path d="M378.4,153.6 C382.9,153.6 398.0,153.6 405.7,153.6 C413.4,153.6 417.6,153.5 424.5,153.6 C431.4,153.8 443.5,154.5 447.3,154.6"/>
<path d="M378.4,155.6 C382.9,155.6 398.0,155.5 405.7,155.6 C413.4,155.8 417.6,156.4 424.5,156.6 C431.4,156.8 443.5,156.6 447.3,156.6"/>
<path d="M378.4,159.6 C379.8,159.7 382.3,160.6 386.9,160.6 C391.4,160.6 399.4,158.9 405.7,159.6 C412.0,160.2 417.6,163.5 424.5,164.5 C431.4,165.5 443.5,165.4 447.3,165.5"/>
<path d="M378.4,174.4 C379.8,173.4 382.3,169.5 386.9,168.5 C391.4,167.5 399.4,168.7 405.7,168.5 C412.0,168.3 419.7,167.8 424.5,167.5 C429.3,167.2 430.6,167.2 434.4,166.5 C438.2,165.9 445.1,164.0 447.3,163.5"/>
<path d="M378.4,176.4 C379.8,177.2 383.8,179.7 386.9,181.4 C390.0,183.0 393.6,185.2 396.8,186.3 C399.9,187.5 402.4,188.5 405.7,188.3 C409.0,188.1 413.1,187.5 416.6,185.3 C420.0,183.2 423.5,178.4 426.5,175.4 C429.5,172.5 430.9,169.2 434.4,167.5 C437.9,165.9 445.1,165.9 447.3,165.5"/>
<path d="M378.4,177.4 C379.8,178.4 383.8,181.5 386.9,183.3 C390.0,185.2 393.6,187.0 396.8,188.3 C399.9,189.6 402.4,191.3 405.7,191.3 C409.0,191.3 413.1,190.6 416.6,188.3 C420.0,186.0 423.5,180.7 426.5,177.4 C429.5,174.1 430.9,170.3 434.4,168.5 C437.9,166.7 445.1,166.8 447.3,166.5"/>
<path d="M378.4,189.3 C382.9,189.5 398.0,190.1 405.7,190.3 C413.4,190.4 417.6,190.4 424.5,190.3 C431.4,190.1 443.5,189.5 447.3,189.3"/>
<path d="M378.4,194.2 C382.9,194.2 399.7,194.7 405.7,194.2 C411.7,193.7 407.7,192.1 414.6,191.3 C421.5,190.4 441.8,189.6 447.3,189.3"/>
<path d="M447.4,126.9 C449.0,127.6 453.0,129.7 456.9,130.9 C460.8,132.0 465.6,133.3 470.7,133.8 C475.9,134.3 482.3,133.3 487.6,133.8 C492.9,134.3 497.7,136.0 502.4,136.8 C507.1,137.6 511.6,139.0 515.9,138.8 C520.2,138.6 523.5,137.6 528.2,135.8 C532.9,134.0 541.4,129.2 544.0,127.9"/>
<path d="M447.4,142.8 C450.3,142.9 459.9,144.1 464.8,143.7 C469.7,143.4 472.9,141.8 476.7,140.8 C480.5,139.8 483.3,137.6 487.6,137.8 C491.9,138.0 497.7,140.1 502.4,141.8 C507.1,143.4 511.6,147.0 515.9,147.7 C520.2,148.4 523.5,146.5 528.2,145.7 C532.9,144.9 541.4,143.2 544.0,142.8"/>
<path d="M447.4,143.7 C450.3,143.6 458.1,142.8 464.8,142.8 C471.5,142.8 481.3,143.2 487.6,143.7 C493.8,144.2 497.7,144.9 502.4,145.7 C507.1,146.5 509.0,149.0 515.9,148.7 C522.8,148.4 539.3,144.6 544.0,143.7"/>
<path d="M447.4,145.7 C450.3,146.1 459.9,146.7 464.8,147.7 C469.7,148.7 472.9,150.2 476.7,151.7 C480.5,153.1 483.3,156.4 487.6,156.6 C491.9,156.8 497.7,154.0 502.4,152.7 C507.1,151.3 511.6,149.2 515.9,148.7 C520.2,148.2 523.5,149.8 528.2,149.7 C532.9,149.5 541.4,148.0 544.0,147.7"/>
<path d="M447.4,150.7 C450.3,151.0 458.1,151.7 464.8,152.7 C471.5,153.6 481.3,155.1 487.6,156.6 C493.8,158.1 497.7,159.1 502.4,161.6 C507.1,164.0 511.6,171.3 515.9,171.5 C520.2,171.6 523.5,165.9 528.2,162.6 C532.9,159.3 541.4,153.5 544.0,151.7"/>
<path d="M447.4,153.6 C450.3,153.8 458.1,154.3 464.8,154.6 C471.5,155.0 481.3,154.8 487.6,155.6 C493.8,156.4 497.7,157.9 502.4,159.6 C507.1,161.2 511.6,165.4 515.9,165.5 C520.2,165.7 523.5,162.6 528.2,160.6 C532.9,158.6 541.4,154.8 544.0,153.6"/>
<path d="M447.4,156.6 C450.3,156.4 458.1,155.6 464.8,155.6 C471.5,155.6 481.3,156.6 487.6,156.6 C493.8,156.6 497.7,156.0 502.4,155.6 C507.1,155.3 509.0,154.5 515.9,154.6 C522.8,154.8 539.3,156.3 544.0,156.6"/>
<path d="M447.4,157.6 C448.6,157.8 452.7,157.6 454.9,158.6 C457.1,159.6 458.7,161.4 460.8,163.5 C463.0,165.7 466.6,170.1 467.8,171.5 C469.3,170.1 473.4,166.0 476.7,163.5 C480.0,161.1 485.8,157.8 487.6,156.6"/>
<path d="M447.4,164.5 C450.3,164.7 458.1,164.9 464.8,165.5 C471.5,166.2 481.3,168.0 487.6,168.5 C493.8,169.0 497.7,168.8 502.4,168.5 C507.1,168.2 509.0,167.0 515.9,166.5 C522.8,166.0 539.3,165.7 544.0,165.5"/>
<path d="M447.4,165.5 C452.3,166.0 470.0,167.8 476.7,168.5 C483.4,169.2 481.0,169.0 487.6,169.5 C494.1,170.0 509.1,171.8 515.9,171.5 C522.7,171.1 523.5,168.3 528.2,167.5 C532.9,166.7 541.4,166.7 544.0,166.5"/>
<path d="M447.4,189.3 C449.0,188.6 453.5,187.6 456.9,185.3 C460.3,183.0 466.0,177.1 467.8,175.4 C469.3,176.4 473.4,179.4 476.7,181.4 C480.0,183.3 485.8,186.3 487.6,187.3"/>
<path d="M447.4,189.3 C450.3,189.1 458.1,188.8 464.8,188.3 C471.5,187.8 481.3,187.5 487.6,186.3 C493.8,185.2 497.7,183.2 502.4,181.4 C507.1,179.6 511.6,175.4 515.9,175.4 C520.2,175.4 523.5,179.1 528.2,181.4 C532.9,183.7 541.4,188.0 544.0,189.3"/>
<path d="M515.9,175.4 C517.9,176.7 523.5,180.9 528.2,183.3 C532.9,185.8 541.4,189.1 544.0,190.3"/>
</g>
<line x1="309.9" y1="124.4" x2="543.5" y2="124.4" stroke="#f42828" stroke-width="1.4" stroke-dasharray="4.9,4.2"/>
<rect x="310.3" y="11.5" width="233.7" height="189.0" fill="none" stroke="#222" stroke-width="1.5"/>
<line x1="305.8" y1="200.5" x2="310.3" y2="200.5" stroke="#222" stroke-width="1.2"/>
<text x="300.6" y="203.3" font-size="8.5" text-anchor="end">−4</text>
<line x1="308.0" y1="181.6" x2="310.3" y2="181.6" stroke="#222" stroke-width="1.2"/>
<line x1="305.8" y1="162.7" x2="310.3" y2="162.7" stroke="#222" stroke-width="1.2"/>
<text x="303.0" y="165.5" font-size="8.5" text-anchor="end">−2</text>
<line x1="308.0" y1="143.8" x2="310.3" y2="143.8" stroke="#222" stroke-width="1.2"/>
<line x1="305.8" y1="124.9" x2="310.3" y2="124.9" stroke="#222" stroke-width="1.2"/>
<text x="303.0" y="127.7" font-size="8.5" text-anchor="end">0</text>
<line x1="308.0" y1="106.0" x2="310.3" y2="106.0" stroke="#222" stroke-width="1.2"/>
<line x1="305.8" y1="87.1" x2="310.3" y2="87.1" stroke="#222" stroke-width="1.2"/>
<text x="303.0" y="89.9" font-size="8.5" text-anchor="end">2</text>
<line x1="308.0" y1="68.2" x2="310.3" y2="68.2" stroke="#222" stroke-width="1.2"/>
<line x1="305.8" y1="49.3" x2="310.3" y2="49.3" stroke="#222" stroke-width="1.2"/>
<text x="303.0" y="52.1" font-size="8.5" text-anchor="end">4</text>
<line x1="308.0" y1="30.4" x2="310.3" y2="30.4" stroke="#222" stroke-width="1.2"/>
<line x1="305.8" y1="11.5" x2="310.3" y2="11.5" stroke="#222" stroke-width="1.2"/>
<text x="303.0" y="14.3" font-size="8.5" text-anchor="end">6</text>
<text x="309" y="209.3" font-size="9.1" text-anchor="middle">Γ</text>
<text x="350.1" y="209.3" font-size="9.1" text-anchor="middle">M</text>
<text x="378.7" y="209.3" font-size="9.1" text-anchor="middle">X</text>
<text x="405.6" y="209.3" font-size="9.1" text-anchor="middle">Γ</text>
<text x="447.7" y="209.3" font-size="9.1" text-anchor="middle">Z</text>
<text x="487.7" y="209.3" font-size="9.1" text-anchor="middle">A</text>
<text x="515.8" y="209.3" font-size="9.1" text-anchor="middle">R</text>
<text x="543" y="209.3" font-size="9.1" text-anchor="middle">Y</text>
<clipPath id="cc"><rect x="36.9" y="219.2" width="234.1" height="192.0"/></clipPath>
<line x1="92.6" y1="219.2" x2="92.6" y2="411.2" stroke="#4a4a4a" stroke-width="1"/>
<line x1="118.2" y1="219.2" x2="118.2" y2="411.2" stroke="#4a4a4a" stroke-width="1"/>
<line x1="133.3" y1="219.2" x2="133.3" y2="411.2" stroke="#4a4a4a" stroke-width="1"/>
<line x1="189.5" y1="219.2" x2="189.5" y2="411.2" stroke="#4a4a4a" stroke-width="1"/>
<line x1="214.5" y1="219.2" x2="214.5" y2="411.2" stroke="#4a4a4a" stroke-width="1"/>
<g clip-path="url(#cc)" fill="none" stroke="#1a1aff" stroke-width="1.35" stroke-linejoin="round" stroke-linecap="round">
<path d="M36.9,228.5 C39.0,228.5 45.3,227.9 49.2,228.5 C53.1,229.1 56.8,231.5 60.5,232.3 C64.3,233.1 66.5,232.3 71.8,233.2 C77.2,234.2 87.9,237.0 92.6,237.9 C97.3,238.9 95.8,238.6 100.2,238.9 C104.5,239.2 112.8,239.5 118.5,239.8 C124.1,240.1 131.5,240.6 134.1,240.8"/>
<path d="M36.9,236.0 C39.6,235.9 48.7,234.9 53.0,235.1 C57.2,235.3 59.0,235.9 62.4,237.0 C65.9,238.1 68.7,240.1 73.7,241.7 C78.8,243.3 87.9,245.8 92.6,246.4 C97.3,247.0 97.7,245.3 102.0,245.5 C106.3,245.6 114.7,247.7 118.5,247.4 C122.2,247.0 122.1,244.4 124.7,243.6 C127.3,242.8 132.5,242.8 134.1,242.6"/>
<path d="M36.9,236.6 C39.9,236.7 50.3,236.3 54.9,237.0 C59.4,237.7 60.2,238.9 64.3,240.8 C68.4,242.6 74.7,246.6 79.4,248.3 C84.1,250.0 88.5,250.0 92.6,251.1 C96.7,252.2 99.6,253.8 103.9,254.9 C108.2,256.0 115.0,257.4 118.5,257.7 C121.9,258.1 122.1,256.9 124.7,256.8 C127.3,256.6 132.5,256.8 134.1,256.8"/>
<path d="M118.5,247.4 C119.5,247.4 122.1,247.7 124.7,247.4 C127.3,247.0 132.5,245.8 134.1,245.5"/>
<path d="M118.5,257.7 C119.5,258.1 122.1,259.3 124.7,259.6 C127.3,259.9 132.5,259.6 134.1,259.6"/>
<path d="M36.9,258.7 C38.4,258.7 42.4,258.2 45.4,258.7 C48.4,259.2 51.7,260.4 54.9,261.5 C58.0,262.6 61.2,264.7 64.3,265.3 C67.4,265.9 69.0,265.4 73.7,265.3 C78.5,265.1 85.2,264.2 92.6,264.3 C100.1,264.5 111.5,265.9 118.5,266.2 C125.4,266.5 131.5,266.2 134.1,266.2"/>
<path d="M36.9,267.2 C39.9,267.3 50.3,267.8 54.9,268.1 C59.4,268.4 58.0,268.8 64.3,269.1 C70.6,269.3 83.6,269.3 92.6,269.4 C101.6,269.6 111.5,270.1 118.5,270.0 C125.4,269.9 131.5,269.2 134.1,269.1"/>
<path d="M36.9,268.1 C38.7,268.1 43.7,267.6 47.3,268.1 C50.9,268.6 54.2,270.0 58.6,270.9 C63.0,271.9 68.1,273.1 73.7,273.8 C79.4,274.4 86.3,275.0 92.6,274.7 C98.9,274.4 104.6,272.5 111.5,271.9 C118.4,271.3 130.3,271.1 134.1,270.9"/>
<path d="M36.9,274.7 C38.7,274.2 43.7,272.7 47.3,271.9 C50.9,271.1 55.5,269.8 58.6,270.0 C61.8,270.2 63.7,272.0 66.2,272.8 C68.7,273.6 71.2,274.6 73.7,274.7 C76.3,274.9 78.1,274.7 81.3,273.8 C84.4,272.8 86.4,269.8 92.6,269.1 C98.8,268.3 111.5,269.4 118.5,269.4 C125.4,269.5 131.5,269.4 134.1,269.4"/>
<path d="M36.9,275.7 C41.5,275.7 55.0,275.7 64.3,275.7 C73.6,275.7 87.9,275.7 92.6,275.7"/>
<path d="M36.9,259.6 C38.7,259.8 43.7,259.6 47.3,260.6 C50.9,261.5 54.9,262.6 58.6,265.3 C62.4,268.0 66.5,273.1 70.0,276.6 C73.4,280.1 75.6,284.2 79.4,286.0 C83.2,287.9 86.1,287.5 92.6,287.9 C99.1,288.4 111.5,288.7 118.5,288.9 C125.4,289.0 131.5,288.9 134.1,288.9"/>
<path d="M36.9,268.1 C39.3,268.3 46.5,268.3 51.1,269.1 C55.7,269.8 60.5,270.9 64.3,272.8 C68.1,274.7 70.6,277.5 73.7,280.4 C76.9,283.2 80.0,287.7 83.2,289.8 C86.3,291.9 89.5,292.9 92.6,293.2 C95.7,293.5 97.7,292.4 102.0,291.7 C106.3,291.0 113.1,289.3 118.5,288.9 C123.8,288.4 131.5,288.9 134.1,288.9"/>
<path d="M133.4,240.8 C134.4,240.6 136.9,240.8 139.4,239.8 C142.0,238.9 144.8,236.7 148.9,235.1 C153.0,233.5 159.2,231.6 164.0,230.4 C168.7,229.1 172.9,227.9 177.2,227.5 C181.4,227.2 187.4,228.3 189.4,228.5"/>
<path d="M133.4,243.6 C134.7,243.3 138.1,243.1 141.3,241.7 C144.5,240.3 148.9,236.4 152.6,235.1 C156.4,233.8 159.9,233.8 164.0,234.2 C168.1,234.5 172.9,236.3 177.2,237.0 C181.4,237.7 187.4,238.2 189.4,238.5"/>
<path d="M133.4,245.5 C134.7,245.0 137.2,244.2 141.3,242.6 C145.5,241.1 153.9,237.0 158.3,236.0 C162.7,235.1 164.6,236.7 167.7,237.0 C170.9,237.3 173.6,237.8 177.2,237.9 C180.8,238.1 187.4,237.9 189.4,237.9"/>
<path d="M133.4,257.7 C134.7,257.6 138.1,258.1 141.3,256.8 C144.5,255.5 148.9,253.0 152.6,250.2 C156.4,247.4 159.9,241.9 164.0,239.8 C168.1,237.8 172.9,238.2 177.2,237.9 C181.4,237.6 187.4,238.1 189.4,238.1"/>
<path d="M133.4,259.6 C134.7,259.5 138.1,259.9 141.3,258.7 C144.5,257.4 148.9,255.1 152.6,252.1 C156.4,249.1 160.5,243.1 164.0,240.8 C167.4,238.4 169.2,238.3 173.4,237.9 C177.6,237.6 186.8,238.6 189.4,238.7"/>
<path d="M133.4,265.3 C134.7,265.3 137.2,265.6 141.3,265.3 C145.5,265.0 152.3,264.2 158.3,263.4 C164.3,262.6 172.0,261.2 177.2,260.6 C182.4,259.9 187.4,259.8 189.4,259.6"/>
<path d="M133.4,266.2 C136.0,266.2 143.1,266.9 148.9,266.2 C154.6,265.6 161.0,263.5 167.7,262.5 C174.5,261.4 185.8,260.4 189.4,260.0"/>
<path d="M133.4,268.1 C136.0,268.4 143.1,270.2 148.9,270.0 C154.6,269.8 162.1,268.4 167.7,267.2 C173.4,265.9 179.2,263.1 182.8,262.5 C186.4,261.8 188.3,263.2 189.4,263.4"/>
<path d="M133.4,269.1 C134.7,269.4 138.7,270.0 141.3,270.9 C143.9,271.9 145.7,274.4 148.9,274.7 C152.0,275.0 155.8,274.1 160.2,272.8 C164.6,271.6 170.4,268.4 175.3,267.2 C180.2,265.9 187.1,265.6 189.4,265.3"/>
<path d="M133.4,270.9 C136.0,271.9 144.4,276.0 148.9,276.6 C153.3,277.2 155.8,275.7 160.2,274.7 C164.6,273.8 170.4,271.6 175.3,270.9 C180.2,270.3 187.1,270.9 189.4,270.9"/>
<path d="M133.4,270.0 C134.7,270.3 138.7,271.6 141.3,271.9 C143.9,272.2 144.5,271.7 148.9,271.9 C153.3,272.0 161.0,272.5 167.7,272.8 C174.5,273.1 185.8,273.6 189.4,273.8"/>
<path d="M133.4,288.9 C134.7,288.6 138.1,288.4 141.3,287.0 C144.5,285.6 148.2,282.4 152.6,280.4 C157.0,278.3 162.7,276.1 167.7,274.7 C172.8,273.3 179.2,272.5 182.8,271.9 C186.4,271.3 188.3,271.4 189.4,271.3"/>
<path d="M189.5,227.9 C191.9,228.1 199.7,229.0 203.9,229.1 C208.1,229.2 211.0,228.1 214.8,228.5 C218.6,228.9 222.0,231.3 226.5,231.7 C231.0,232.1 236.6,230.5 241.6,230.9 C246.6,231.4 251.8,232.8 256.7,234.2 C261.6,235.5 268.5,238.1 270.8,238.9"/>
<path d="M189.5,238.5 C191.9,238.2 199.7,237.2 203.9,236.6 C208.1,236.0 210.7,235.2 214.8,235.1 C218.9,235.0 223.9,235.3 228.4,236.0 C232.9,236.8 236.9,238.4 241.6,239.8 C246.3,241.2 251.8,243.3 256.7,244.5 C261.6,245.8 268.5,246.9 270.8,247.4"/>
<path d="M189.5,238.9 C191.9,238.6 199.7,237.5 203.9,237.0 C208.1,236.4 210.7,235.5 214.8,235.5 C218.9,235.5 223.9,236.1 228.4,237.0 C232.9,237.9 236.9,239.2 241.6,240.8 C246.3,242.3 251.8,244.7 256.7,246.4 C261.6,248.1 268.5,250.3 270.8,251.1"/>
<path d="M189.5,259.6 C191.9,259.6 199.7,259.6 203.9,259.6 C208.1,259.6 210.7,259.3 214.8,259.6 C218.9,259.9 223.9,260.7 228.4,261.5 C232.9,262.3 234.5,263.7 241.6,264.3 C248.7,265.0 266.0,265.1 270.8,265.3"/>
<path d="M189.5,260.6 C191.9,260.6 199.7,260.6 203.9,260.6 C208.1,260.6 210.7,260.3 214.8,260.6 C218.9,260.9 223.9,261.2 228.4,262.5 C232.9,263.7 236.9,265.1 241.6,268.1 C246.3,271.1 251.8,276.3 256.7,280.4 C261.6,284.5 268.5,290.6 270.8,292.6"/>
<path d="M189.5,263.4 C191.9,263.7 199.7,265.0 203.9,265.3 C208.1,265.6 210.7,265.6 214.8,265.3 C218.9,265.0 223.9,263.1 228.4,263.4 C232.9,263.7 236.9,266.2 241.6,267.2 C246.3,268.1 251.8,268.6 256.7,269.1 C261.6,269.5 268.5,269.8 270.8,270.0"/>
<path d="M189.5,266.2 C191.9,266.4 199.7,267.2 203.9,267.2 C208.1,267.2 210.7,266.2 214.8,266.2 C218.9,266.2 223.9,266.4 228.4,267.2 C232.9,268.0 236.9,268.4 241.6,270.9 C246.3,273.5 251.8,279.4 256.7,282.3 C261.6,285.1 268.5,287.0 270.8,287.9"/>
<path d="M189.5,269.1 C191.9,269.2 199.7,269.8 203.9,270.0 C208.1,270.2 210.7,269.9 214.8,270.0 C218.9,270.1 223.9,270.3 228.4,270.6 C232.9,270.9 236.9,271.2 241.6,271.9 C246.3,272.6 251.8,274.2 256.7,274.7 C261.6,275.2 268.5,274.7 270.8,274.7"/>
<path d="M189.5,273.8 C191.9,273.9 199.7,274.6 203.9,274.7 C208.1,274.9 210.7,275.3 214.8,274.7 C218.9,274.1 223.9,271.1 228.4,270.9 C232.9,270.8 236.9,273.5 241.6,273.8 C246.3,274.1 251.8,273.5 256.7,272.8 C261.6,272.2 268.5,270.5 270.8,270.0"/>
<path d="M189.5,274.7 C191.9,274.7 199.7,274.7 203.9,274.7 C208.1,274.7 210.7,274.6 214.8,274.7 C218.9,274.9 223.9,275.5 228.4,275.7 C232.9,275.8 234.5,275.7 241.6,275.7 C248.7,275.7 266.0,275.7 270.8,275.7"/>
<path d="M37.0,341.9 C39.5,342.0 46.7,342.4 51.8,342.9 C57.0,343.3 63.1,344.2 67.7,344.8 C72.3,345.5 75.4,346.0 79.6,346.8 C83.8,347.6 88.5,349.3 92.8,349.8 C97.1,350.3 101.1,349.9 105.3,349.8 C109.5,349.6 113.5,349.1 118.2,348.8 C122.9,348.5 130.9,348.0 133.4,347.8"/>
<path d="M37.0,342.3 C40.1,342.5 50.0,343.3 55.8,343.4 C61.6,343.5 67.0,343.2 71.6,342.9 C76.3,342.5 80.0,341.7 83.5,341.5 C87.1,341.2 89.2,341.2 92.8,341.5 C96.5,341.7 101.1,342.5 105.3,342.9 C109.5,343.2 114.9,343.6 118.2,343.4 C121.5,343.3 122.6,342.3 125.1,341.9 C127.7,341.4 132.0,341.0 133.4,340.9"/>
<path d="M37.0,354.7 C39.5,354.4 46.7,353.4 51.8,352.8 C57.0,352.1 63.1,351.3 67.7,350.8 C72.3,350.3 75.4,350.1 79.6,349.8 C83.8,349.5 88.5,349.1 92.8,348.8 C97.1,348.5 101.1,348.1 105.3,347.8 C109.5,347.5 113.5,347.0 118.2,346.8 C122.9,346.6 130.9,346.8 133.4,346.8"/>
<path d="M37.0,355.7 C40.1,355.4 49.4,354.2 55.8,353.7 C62.2,353.2 69.4,352.9 75.6,352.8 C81.8,352.6 85.7,352.8 92.8,352.8 C99.9,352.8 111.4,352.9 118.2,352.8 C124.9,352.6 130.9,351.9 133.4,351.8"/>
<path d="M37.0,357.7 C40.1,357.5 49.4,357.0 55.8,356.7 C62.2,356.4 69.4,356.2 75.6,355.7 C81.8,355.2 85.7,354.1 92.8,353.7 C99.9,353.4 111.4,353.7 118.2,353.7 C124.9,353.7 130.9,353.7 133.4,353.7"/>
<path d="M37.0,359.7 C40.1,359.7 49.4,359.8 55.8,359.7 C62.2,359.5 69.4,359.0 75.6,358.7 C81.8,358.4 87.9,357.9 92.8,357.7 C97.8,357.5 101.1,357.9 105.3,357.7 C109.5,357.5 113.5,357.0 118.2,356.7 C122.9,356.4 130.9,355.9 133.4,355.7"/>
<path d="M37.0,360.7 C40.1,360.8 49.4,361.2 55.8,361.7 C62.2,362.2 69.4,364.0 75.6,363.6 C81.8,363.3 85.7,360.3 92.8,359.7 C99.9,359.0 111.4,359.8 118.2,359.7 C124.9,359.5 130.9,358.9 133.4,358.7"/>
<path d="M37.0,362.7 C40.1,363.0 49.4,364.1 55.8,364.6 C62.2,365.1 69.4,365.6 75.6,365.6 C81.8,365.6 87.9,364.8 92.8,364.6 C97.8,364.5 101.1,364.6 105.3,364.6 C109.5,364.6 113.5,364.8 118.2,364.6 C122.9,364.5 130.9,363.8 133.4,363.6"/>
<path d="M37.0,370.6 C38.8,370.2 44.1,369.6 47.9,368.6 C51.7,367.6 55.8,366.0 59.8,364.6 C63.7,363.3 67.7,361.8 71.6,360.7 C75.6,359.5 80.0,358.4 83.5,357.7 C87.1,357.0 87.1,357.0 92.8,356.7 C98.6,356.4 111.4,356.1 118.2,355.7 C124.9,355.4 130.9,354.9 133.4,354.7"/>
<path d="M37.0,371.6 C40.1,370.9 49.4,368.1 55.8,367.6 C62.2,367.1 69.4,367.8 75.6,368.6 C81.8,369.4 87.9,371.4 92.8,372.6 C97.8,373.7 101.1,375.0 105.3,375.5 C109.5,376.0 113.5,375.7 118.2,375.5 C122.9,375.4 130.9,374.7 133.4,374.5"/>
<path d="M37.0,376.5 C39.5,376.0 46.7,374.7 51.8,373.5 C57.0,372.4 62.4,370.6 67.7,369.6 C73.0,368.6 79.3,367.7 83.5,367.6 C87.7,367.5 89.2,369.4 92.8,369.2 C96.5,369.0 101.1,367.0 105.3,366.6 C109.5,366.2 113.5,366.8 118.2,366.6 C122.9,366.4 130.9,365.8 133.4,365.6"/>
<path d="M92.8,369.2 C94.9,369.4 101.1,370.5 105.3,370.6 C109.5,370.6 113.5,369.9 118.2,369.6 C122.9,369.3 130.9,368.8 133.4,368.6"/>
<path d="M92.8,372.6 C97.1,373.4 111.4,376.5 118.2,377.5 C124.9,378.5 130.9,378.3 133.4,378.5"/>
<path d="M92.8,380.5 C97.1,380.5 111.4,380.5 118.2,380.5 C124.9,380.5 130.9,380.5 133.4,380.5"/>
<path d="M133.2,339.7 C136.3,339.4 145.1,338.2 151.9,338.2 C158.7,338.2 167.6,339.0 173.9,339.7 C180.2,340.4 186.9,341.9 189.5,342.3"/>
<path d="M133.2,342.6 C135.1,342.5 140.8,342.2 144.6,341.8 C148.4,341.4 152.4,340.3 156.3,340.4 C160.2,340.5 162.5,341.7 168.0,342.6 C173.5,343.5 185.9,345.4 189.5,346.0"/>
<path d="M133.2,344.8 C135.1,344.6 140.3,343.4 144.6,343.3 C148.9,343.2 154.3,343.3 159.2,344.0 C164.1,344.7 168.8,346.2 173.9,347.7 C179.0,349.2 186.9,351.9 189.5,352.8"/>
<path d="M133.2,347.8 C136.3,347.6 145.1,346.8 151.9,346.7 C158.7,346.6 167.6,346.6 173.9,347.0 C180.2,347.4 186.9,348.8 189.5,349.2"/>
<path d="M133.2,350.5 C136.3,350.3 145.1,349.4 151.9,349.5 C158.7,349.6 167.6,350.3 173.9,351.0 C180.2,351.7 186.9,353.2 189.5,353.7"/>
<path d="M133.2,352.0 C136.3,352.1 145.1,352.2 151.9,352.5 C158.7,352.8 167.6,353.5 173.9,354.0 C180.2,354.5 186.9,355.2 189.5,355.5"/>
<path d="M133.2,353.7 C136.3,353.9 145.1,354.6 151.9,355.0 C158.7,355.4 167.6,355.6 173.9,356.0 C180.2,356.4 186.9,357.4 189.5,357.7"/>
<path d="M133.2,355.2 C136.3,355.0 145.1,354.4 151.9,354.0 C158.7,353.6 167.6,353.5 173.9,353.0 C180.2,352.5 186.9,351.3 189.5,351.0"/>
<path d="M133.2,356.7 C136.3,356.8 145.1,357.2 151.9,357.5 C158.7,357.8 167.6,358.1 173.9,358.5 C180.2,358.9 186.9,359.5 189.5,359.7"/>
<path d="M133.2,358.5 C136.3,358.7 145.1,359.1 151.9,359.5 C158.7,359.9 167.6,360.5 173.9,361.0 C180.2,361.5 186.9,362.4 189.5,362.7"/>
<path d="M133.2,360.9 C135.1,361.0 140.3,360.8 144.6,361.6 C148.9,362.5 154.3,364.9 159.2,366.0 C164.1,367.1 168.8,367.6 173.9,368.2 C179.0,368.8 186.9,369.4 189.5,369.6"/>
<path d="M133.2,363.6 C135.1,364.2 140.3,366.5 144.6,367.4 C148.9,368.3 154.3,368.8 159.2,368.9 C164.1,369.0 168.8,368.8 173.9,368.2 C179.0,367.6 186.9,366.0 189.5,365.6"/>
<path d="M133.2,367.4 C134.6,367.2 138.6,366.5 141.7,366.0 C144.8,365.5 147.8,364.9 151.9,364.5 C156.0,364.1 160.2,363.3 166.5,363.8 C172.8,364.3 185.7,367.0 189.5,367.6"/>
<path d="M133.2,369.6 C135.1,370.0 140.3,371.0 144.6,371.8 C148.9,372.6 154.3,373.9 159.2,374.7 C164.1,375.5 168.8,376.6 173.9,376.9 C179.0,377.2 186.9,376.6 189.5,376.5"/>
<path d="M133.2,372.6 C135.1,373.0 140.3,373.7 144.6,374.7 C148.9,375.7 154.3,377.3 159.2,378.4 C164.1,379.5 168.8,380.5 173.9,381.3 C179.0,382.1 186.9,383.0 189.5,383.4"/>
<path d="M133.2,374.5 C135.1,374.9 140.3,376.0 144.6,376.9 C148.9,377.8 154.8,378.4 159.2,379.9 C163.6,381.4 167.2,383.9 170.9,385.7 C174.6,387.5 178.1,389.5 181.2,390.8 C184.3,392.1 188.1,392.9 189.5,393.3"/>
<path d="M133.2,376.9 C135.1,377.1 140.3,377.2 144.6,378.4 C148.9,379.6 154.8,382.2 159.2,384.2 C163.6,386.1 167.2,388.6 170.9,390.1 C174.6,391.7 178.1,392.5 181.2,393.5 C184.3,394.5 188.1,395.8 189.5,396.3"/>
<path d="M133.2,378.5 C136.3,378.7 145.1,379.9 151.9,379.9 C158.7,379.9 167.6,378.5 173.9,378.4 C180.2,378.3 186.9,379.3 189.5,379.5"/>
<path d="M133.2,380.5 C136.3,380.6 145.1,381.1 151.9,381.3 C158.7,381.6 167.6,381.5 173.9,382.0 C180.2,382.5 186.9,384.0 189.5,384.4"/>
<path d="M133.2,390.1 C136.3,389.9 146.3,389.1 151.9,388.6 C157.5,388.1 160.2,387.7 166.5,387.2 C172.8,386.7 185.7,385.9 189.5,385.7"/>
<path d="M133.2,393.3 C136.3,393.0 145.1,391.8 151.9,391.6 C158.7,391.4 167.6,392.1 173.9,392.3 C180.2,392.5 186.9,392.9 189.5,393.0"/>
<path d="M36.9,370.6 C38.5,370.3 42.1,369.7 46.6,368.7 C51.1,367.7 58.5,365.9 64.0,364.8 C69.5,363.7 74.7,362.5 79.5,361.9 C84.3,361.2 90.4,361.1 92.6,360.9"/>
<path d="M36.9,378.4 C38.5,378.2 42.1,378.2 46.6,377.4 C51.1,376.6 58.5,374.5 64.0,373.5 C69.5,372.5 74.7,372.2 79.5,371.6 C84.3,371.0 90.4,370.0 92.6,369.7"/>
<path d="M36.9,379.3 C38.5,379.8 43.0,380.9 46.6,382.2 C50.2,383.5 53.7,386.9 58.2,387.1 C62.7,387.3 68.0,385.5 73.7,383.2 C79.4,380.9 89.4,375.1 92.6,373.5"/>
<path d="M36.9,388.0 C39.2,387.7 46.0,386.9 50.5,386.1 C55.0,385.3 59.2,384.5 64.0,383.2 C68.8,381.9 74.7,380.2 79.5,378.4 C84.3,376.6 90.4,373.5 92.6,372.5"/>
<path d="M36.9,392.9 C39.2,392.9 46.0,393.2 50.5,392.9 C55.0,392.6 59.2,392.0 64.0,390.9 C68.8,389.8 74.7,387.8 79.5,386.1 C84.3,384.4 90.4,381.6 92.6,380.7"/>
<path d="M36.9,392.3 C41.4,392.3 54.7,392.3 64.0,392.3 C73.3,392.3 83.6,392.2 92.6,392.3 C101.6,392.4 111.4,392.8 118.2,392.9 C125.0,393.0 130.9,392.9 133.4,392.9"/>
<path d="M189.4,342.3 C191.3,342.2 197.3,342.0 200.8,341.9 C204.4,341.7 208.4,341.5 210.7,341.5 C213.1,341.5 211.1,341.7 215.1,341.9 C219.1,342.0 228.0,342.3 234.5,342.3 C241.0,342.3 248.3,342.2 254.3,341.9 C260.3,341.5 267.8,340.5 270.5,340.3"/>
<path d="M189.4,353.7 C191.3,352.4 197.3,347.7 200.8,345.8 C204.4,343.9 208.4,342.9 210.7,342.3 C213.1,341.7 211.1,341.7 215.1,342.3 C219.1,342.9 228.0,344.7 234.5,345.8 C241.0,346.9 248.3,348.5 254.3,348.8 C260.3,349.1 267.8,348.0 270.5,347.8"/>
<path d="M189.4,352.8 C191.3,352.6 196.6,351.9 200.8,351.8 C205.1,351.6 209.5,351.6 215.1,351.8 C220.7,351.9 228.0,352.9 234.5,352.8 C241.0,352.6 248.3,351.4 254.3,350.8 C260.3,350.1 267.8,349.1 270.5,348.8"/>
<path d="M189.4,357.7 C191.3,357.7 196.6,357.7 200.8,357.7 C205.1,357.7 209.5,358.0 215.1,357.7 C220.7,357.4 228.0,356.4 234.5,355.7 C241.0,355.1 248.3,354.2 254.3,353.7 C260.3,353.2 267.8,352.9 270.5,352.8"/>
<path d="M189.4,359.7 C191.3,359.7 196.6,359.7 200.8,359.7 C205.1,359.7 209.5,359.7 215.1,359.7 C220.7,359.7 228.0,360.0 234.5,359.7 C241.0,359.4 248.3,358.4 254.3,357.7 C260.3,357.0 267.8,356.1 270.5,355.7"/>
<path d="M189.4,362.7 C191.3,362.5 196.6,361.7 200.8,361.7 C205.1,361.7 209.5,362.5 215.1,362.7 C220.7,362.8 228.0,362.8 234.5,362.7 C241.0,362.5 248.3,362.0 254.3,361.7 C260.3,361.3 267.8,360.8 270.5,360.7"/>
<path d="M189.4,365.6 C191.3,365.8 196.6,366.8 200.8,366.6 C205.1,366.4 209.5,365.0 215.1,364.6 C220.7,364.3 228.0,364.8 234.5,364.6 C241.0,364.5 248.3,364.0 254.3,363.6 C260.3,363.3 267.8,362.8 270.5,362.7"/>
<path d="M189.4,367.6 C191.3,367.8 196.6,368.6 200.8,368.6 C205.1,368.6 209.5,367.9 215.1,367.6 C220.7,367.3 228.0,366.8 234.5,366.6 C241.0,366.4 248.3,366.8 254.3,366.6 C260.3,366.4 267.8,365.8 270.5,365.6"/>
<path d="M189.4,370.6 C191.3,370.6 196.6,370.7 200.8,370.6 C205.1,370.4 209.5,370.1 215.1,369.6 C220.7,369.1 228.0,367.6 234.5,367.6 C241.0,367.6 248.3,369.3 254.3,369.6 C260.3,369.9 267.8,369.6 270.5,369.6"/>
<path d="M189.4,376.5 C191.3,376.8 196.6,377.8 200.8,378.5 C205.1,379.2 209.5,381.0 215.1,380.5 C220.7,380.0 228.0,377.0 234.5,375.5 C241.0,374.0 248.3,372.4 254.3,371.6 C260.3,370.7 267.8,370.7 270.5,370.6"/>
<path d="M189.4,379.5 C191.3,379.7 196.6,380.5 200.8,380.5 C205.1,380.5 211.1,380.0 215.1,379.5 C219.1,379.0 219.7,379.0 224.6,377.5 C229.5,376.0 236.7,372.2 244.4,370.6 C252.1,368.9 266.2,368.1 270.5,367.6"/>
<path d="M189.4,383.4 C191.3,383.6 196.6,384.1 200.8,384.4 C205.1,384.8 209.5,385.4 215.1,385.4 C220.7,385.4 228.0,385.4 234.5,384.4 C241.0,383.4 248.3,381.3 254.3,379.5 C260.3,377.7 267.8,374.5 270.5,373.5"/>
<path d="M189.4,384.4 C191.3,384.6 196.6,384.9 200.8,385.4 C205.1,385.9 209.5,387.2 215.1,387.4 C220.7,387.6 228.0,387.2 234.5,386.4 C241.0,385.6 248.3,383.9 254.3,382.5 C260.3,381.0 267.8,378.3 270.5,377.5"/>
<path d="M189.4,393.3 C191.3,393.3 196.6,393.5 200.8,393.3 C205.1,393.2 209.5,392.7 215.1,392.4 C220.7,392.0 228.0,391.5 234.5,391.4 C241.0,391.2 248.3,391.2 254.3,391.4 C260.3,391.5 267.8,392.2 270.5,392.4"/>
<path d="M189.4,396.3 C191.3,396.2 196.6,396.0 200.8,395.3 C205.1,394.7 209.5,393.3 215.1,392.4 C220.7,391.4 228.0,390.5 234.5,389.4 C241.0,388.2 248.3,386.7 254.3,385.4 C260.3,384.1 267.8,382.1 270.5,381.5"/>
</g>
<line x1="38.0" y1="334.3" x2="270.5" y2="334.3" stroke="#f42828" stroke-width="1.4" stroke-dasharray="4.9,4.2"/>
<rect x="36.9" y="219.2" width="234.1" height="192.0" fill="none" stroke="#222" stroke-width="1.5"/>
<line x1="32.4" y1="411.2" x2="36.9" y2="411.2" stroke="#222" stroke-width="1.2"/>
<text x="27.2" y="414.0" font-size="8.5" text-anchor="end">−4</text>
<line x1="34.6" y1="392.0" x2="36.9" y2="392.0" stroke="#222" stroke-width="1.2"/>
<line x1="32.4" y1="372.8" x2="36.9" y2="372.8" stroke="#222" stroke-width="1.2"/>
<text x="29.6" y="375.6" font-size="8.5" text-anchor="end">−2</text>
<line x1="34.6" y1="353.6" x2="36.9" y2="353.6" stroke="#222" stroke-width="1.2"/>
<line x1="32.4" y1="334.4" x2="36.9" y2="334.4" stroke="#222" stroke-width="1.2"/>
<text x="29.6" y="337.2" font-size="8.5" text-anchor="end">0</text>
<line x1="34.6" y1="315.2" x2="36.9" y2="315.2" stroke="#222" stroke-width="1.2"/>
<line x1="32.4" y1="296.0" x2="36.9" y2="296.0" stroke="#222" stroke-width="1.2"/>
<text x="29.6" y="298.8" font-size="8.5" text-anchor="end">2</text>
<line x1="34.6" y1="276.8" x2="36.9" y2="276.8" stroke="#222" stroke-width="1.2"/>
<line x1="32.4" y1="257.6" x2="36.9" y2="257.6" stroke="#222" stroke-width="1.2"/>
<text x="29.6" y="260.4" font-size="8.5" text-anchor="end">4</text>
<line x1="34.6" y1="238.4" x2="36.9" y2="238.4" stroke="#222" stroke-width="1.2"/>
<line x1="32.4" y1="219.2" x2="36.9" y2="219.2" stroke="#222" stroke-width="1.2"/>
<text x="29.6" y="222.0" font-size="8.5" text-anchor="end">6</text>
<text x="37.5" y="420.8" font-size="9.1" text-anchor="middle">R</text>
<text x="92.6" y="420.8" font-size="9.1" text-anchor="middle">T</text>
<text x="118.2" y="420.8" font-size="9.1" text-anchor="middle">Z</text>
<text x="133.3" y="420.8" font-size="9.1" text-anchor="middle">Γ</text>
<text x="189.5" y="420.8" font-size="9.1" text-anchor="middle">X</text>
<text x="214.5" y="420.8" font-size="9.1" text-anchor="middle">S</text>
<text x="271" y="420.8" font-size="9.1" text-anchor="middle">Y</text>
<text x="2.3" y="21.9" font-size="15.8">(a)</text>
<text x="277" y="21.5" font-size="15.8">(b)</text>
<text x="6" y="229.6" font-size="15.8">(c)</text>
<text font-size="14.5" text-anchor="middle" transform="translate(14,96.5) rotate(-90)">Energy (eV)</text>
<text font-size="14.5" text-anchor="middle" transform="translate(288.3,98) rotate(-90)">Energy (eV)</text>
<text font-size="14.5" text-anchor="middle" transform="translate(14.5,307.3) rotate(-90)">Energy (eV)</text>
<text x="427.3" y="213" font-size="7" font-weight="bold" text-anchor="middle" font-family="Liberation Sans, sans-serif">A</text>
</svg></body></html>
